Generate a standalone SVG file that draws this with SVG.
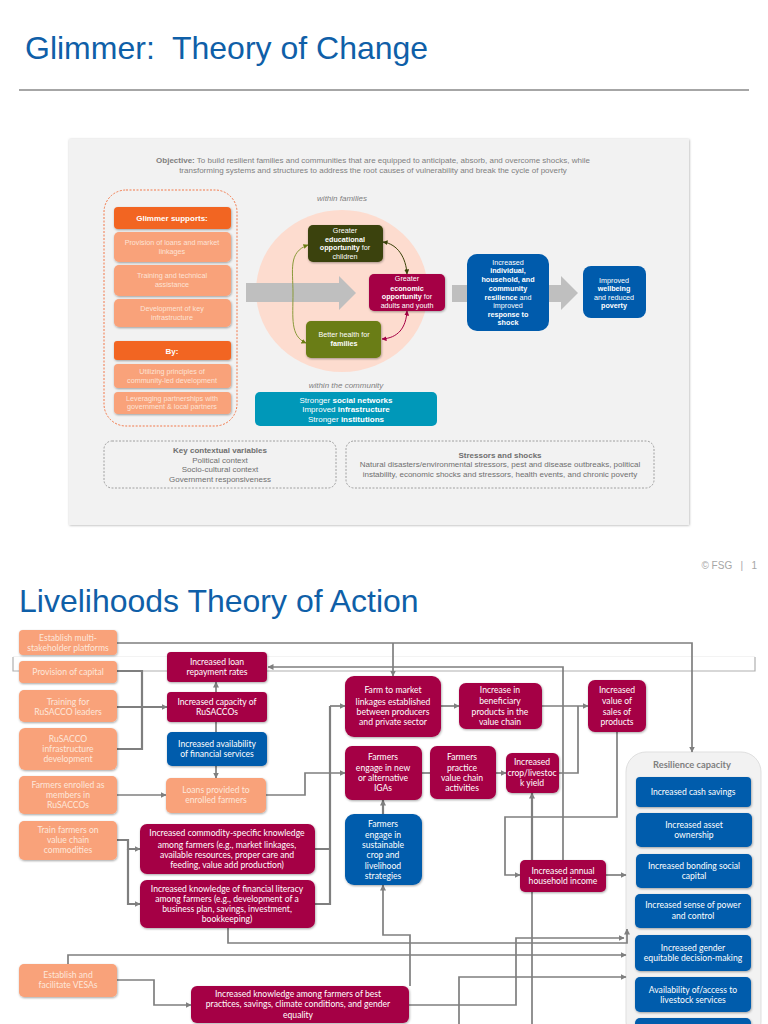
<svg xmlns="http://www.w3.org/2000/svg" width="768" height="1024" viewBox="0 0 768 1024">
<style>
text{font-family:"Liberation Sans",Arial,sans-serif;text-anchor:middle}
.t{font-size:32px;fill:#0f5fa8;text-anchor:start;white-space:pre}
.a{font-size:7.2px;fill:#fff}
.a2{font-size:7.2px;fill:#fde3d6}
.o{font-size:8px;fill:#7f7f7f}
.i{font-size:8px;fill:#7f7f7f;font-style:italic}
.k{font-size:8px;fill:#6f6f6f}
.l{font-family:Lato,"Liberation Sans",sans-serif;font-size:8.6px;fill:#fff}
.p{font-family:Lato,"Liberation Sans",sans-serif;font-size:8.6px;fill:#fde7db}
.b{font-weight:bold}
.or{fill:#f9a27a;filter:url(#s)}
.dor{fill:#f26522;filter:url(#s)}
.cr{fill:#a50044;filter:url(#s)}
.bl{fill:#005bac;filter:url(#s)}
.c{fill:none;stroke:#7f7f7f;stroke-width:1.7}
.h{stroke-width:2.2}
.cu{fill:none;stroke-width:1}
.d{fill:none;stroke:#8c8c8c;stroke-width:.8;stroke-dasharray:2 1.5}
</style>
<defs>
<filter id="s" x="-10%" y="-10%" width="120%" height="125%"><feDropShadow dx="0.6" dy="1" stdDeviation="0.9" flood-color="#000" flood-opacity=".35"/></filter>
<filter id="p" x="-2%" y="-2%" width="104%" height="104%"><feDropShadow dx="0.5" dy="0.5" stdDeviation="1.2" flood-color="#000" flood-opacity=".3"/></filter>
<marker id="m" viewBox="0 0 6 6" refX="5.5" refY="3" markerWidth="6" markerHeight="6" markerUnits="userSpaceOnUse" orient="auto-start-reverse"><path d="M0 0L6 3L0 6z" fill="#7f7f7f"/></marker>
<marker id="mo" viewBox="0 0 6 6" refX="5.500" refY="3" markerWidth="5" markerHeight="5" markerUnits="userSpaceOnUse" orient="auto-start-reverse"><path d="M0 0L6 3L0 6z" fill="#6b7d12"/></marker>
<marker id="md" viewBox="0 0 6 6" refX="5.500" refY="3" markerWidth="5" markerHeight="5" markerUnits="userSpaceOnUse" orient="auto-start-reverse"><path d="M0 0L6 3L0 6z" fill="#3a4209"/></marker>
<marker id="mc" viewBox="0 0 6 6" refX="5.500" refY="3" markerWidth="5" markerHeight="5" markerUnits="userSpaceOnUse" orient="auto-start-reverse"><path d="M0 0L6 3L0 6z" fill="#a50044"/></marker>
</defs>
<rect width="768" height="1024" fill="#fff"/>
<text class="t" x="25" y="59">Glimmer:  Theory of Change</text>
<path d="M19 90H749" stroke="#a6a6a6" stroke-width="2" fill="none"/>
<rect x="69" y="139" width="620" height="386" fill="#f2f2f2" filter="url(#p)"/>
<text class="o"><tspan x="373" y="163"><tspan class="b">Objective:</tspan> To build resilient families and communities that are equipped to anticipate, absorb, and overcome shocks, while</tspan><tspan x="373" y="173">transforming systems and structures to address the root causes of vulnerability and break the cycle of poverty</tspan></text>
<rect x="104" y="190" width="133" height="236" rx="22" fill="none" stroke="#f2794a" stroke-width="1" stroke-dasharray="2 1.5"/>
<ellipse cx="342" cy="291" rx="86" ry="81" fill="#fddccf"/>
<text class="i" x="342" y="201">within families</text>
<text class="i" x="346" y="388">within the community</text>
<g id="supports"><rect class="dor" x="114" y="207" width="117" height="22" rx="4"/><text class="b" x="172" y="221" font-size="8" fill="#fff">Glimmer supports:</text></g>
<g id="provision"><rect class="or" x="114" y="232" width="117" height="30" rx="5"/><text class="a2"><tspan x="172" y="245">Provision of loans and market</tspan><tspan x="172" y="254">linkages</tspan></text></g>
<g id="training"><rect class="or" x="114" y="265" width="117" height="31" rx="5"/><text class="a2"><tspan x="172" y="278">Training and technical</tspan><tspan x="172" y="287">assistance</tspan></text></g>
<g id="development"><rect class="or" x="114" y="299" width="117" height="28" rx="5"/><text class="a2"><tspan x="172" y="311">Development of key</tspan><tspan x="172" y="320">infrastructure</tspan></text></g>
<g id="by"><rect class="dor" x="114" y="341" width="117" height="19" rx="3"/><text class="b" x="172" y="354" font-size="8" fill="#fff">By:</text></g>
<g id="utilizing"><rect class="or" x="114" y="364" width="117" height="24" rx="4"/><text class="a2"><tspan x="172" y="374">Utilizing principles of</tspan><tspan x="172" y="383">community-led development</tspan></text></g>
<g id="leveraging"><rect class="or" x="114" y="392" width="117" height="22" rx="4"/><text class="a2"><tspan x="172" y="401">Leveraging partnerships with</tspan><tspan x="172" y="409">government &amp; local partners</tspan></text></g>
<g id="arrows-big" fill="#bfbfbf"><path d="M246 283H339V276L356 293L339 310V302H246z"/><path d="M452 285H467V302H452z"/><path d="M549 285H561V276L578 293L561 310V302H549z"/></g>
<g id="curves">
<path class="cu" stroke="#8a9a3a" marker-start="url(#mo)" marker-end="url(#mo)" d="M308 245C288 252 293 270 293 293C293 318 290 336 306 343"/>
<path class="cu" stroke="#3a4209" marker-start="url(#md)" marker-end="url(#md)" d="M383 242C398 244 406 258 407 274"/>
<path class="cu" stroke="#a50044" marker-start="url(#mc)" marker-end="url(#mc)" d="M407 311C406 328 398 338 382 339"/>
</g>
<g id="edu"><rect x="308" y="225" width="75" height="37" rx="5" fill="#3a4209" filter="url(#s)"/><text class="a"><tspan x="345" y="233">Greater</tspan><tspan class="b" x="345" y="242">educational</tspan><tspan x="345" y="250"><tspan class="b">opportunity</tspan> for</tspan><tspan x="345" y="259">children</tspan></text></g>
<g id="econ"><rect class="cr" x="369" y="274" width="76" height="37" rx="5"/><text class="a"><tspan x="407" y="281">Greater</tspan><tspan class="b" x="407" y="291">economic</tspan><tspan x="407" y="299"><tspan class="b">opportunity</tspan> for</tspan><tspan x="407" y="308">adults and youth</tspan></text></g>
<g id="health"><rect x="306" y="321" width="75" height="37" rx="5" fill="#6b7d12" filter="url(#s)"/><text class="a"><tspan x="344" y="337">Better health for</tspan><tspan class="b" x="344" y="346">families</tspan></text></g>
<g id="resilience"><rect x="467" y="254" width="82" height="77" rx="10" fill="#005bac"/><text class="a"><tspan x="508" y="265">Increased</tspan><tspan class="b" x="508" y="273">individual,</tspan><tspan class="b" x="508" y="282">household, and</tspan><tspan class="b" x="508" y="291">community</tspan><tspan x="508" y="300"><tspan class="b">resilience</tspan> and</tspan><tspan x="508" y="308">improved</tspan><tspan class="b" x="508" y="317">response to</tspan><tspan class="b" x="508" y="325">shock</tspan></text></g>
<g id="wellbeing"><rect x="583" y="266" width="63" height="52" rx="8" fill="#005bac"/><text class="a"><tspan x="614" y="283">Improved</tspan><tspan class="b" x="614" y="291">wellbeing</tspan><tspan x="614" y="300">and reduced</tspan><tspan class="b" x="614" y="308">poverty</tspan></text></g>
<g id="community"><rect x="255" y="392" width="182" height="34" rx="5" fill="#0098b9"/><text font-size="8" fill="#fff"><tspan x="346" y="403">Stronger <tspan class="b">social networks</tspan></tspan><tspan x="346" y="412">Improved <tspan class="b">infrastructure</tspan></tspan><tspan x="346" y="422">Stronger <tspan class="b">institutions</tspan></tspan></text></g>
<g id="contextual"><rect class="d" x="104" y="441" width="232" height="47" rx="8"/><text class="k"><tspan class="b" x="220" y="453">Key contextual variables</tspan><tspan x="220" y="463">Political context</tspan><tspan x="220" y="472">Socio-cultural context</tspan><tspan x="220" y="482">Government responsiveness</tspan></text></g>
<g id="stressors"><rect class="d" x="346" y="441" width="308" height="47" rx="8"/><text class="k"><tspan class="b" x="500" y="458">Stressors and shocks</tspan><tspan x="500" y="467">Natural disasters/environmental stressors, pest and disease outbreaks, political</tspan><tspan x="500" y="477">instability, economic shocks and stressors, health events, and chronic poverty</tspan></text></g>
<text x="757" y="569" font-size="10" fill="#a6a6a6" style="text-anchor:end;white-space:pre">© FSG   |   1</text>
<text class="t" x="19" y="612">Livelihoods Theory of Action</text>
<path d="M13 657V671H755V657" fill="none" stroke="#b0b0b0" stroke-width="1.2"/>
<path d="M13 656.500H755" fill="none" stroke="#f0f0f0" stroke-width=".8"/>
<rect x="626" y="752" width="135" height="290" rx="20" fill="#f2f2f2" stroke="#dfdfdf"/>
<g id="connectors">
<path class="c" marker-end="url(#m)" d="M117 643H692V752"/>
<path class="c" marker-end="url(#m)" d="M393 643V676"/>
<path class="c" marker-end="url(#m)" d="M563 860V667H268"/>
<path class="c h" d="M117 671H142V749H117"/>
<path class="c h" marker-end="url(#m)" d="M117 707H167"/>
<path class="c" marker-end="url(#m)" d="M216 692V682"/>
<path class="c" d="M216 722V732"/>
<path class="c" marker-end="url(#m)" d="M216 766V778"/>
<path class="c" marker-end="url(#m)" d="M117 795H166"/>
<path class="c" marker-end="url(#m)" d="M266 795H305V773H345"/>
<path class="c h" d="M315 849H330M315 904H330V706"/>
<path class="c" marker-end="url(#m)" d="M330 706H345"/>
<path class="c h" marker-end="url(#m)" d="M117 840H128V849H140"/>
<path class="c h" marker-end="url(#m)" d="M128 849V904H140"/>
<path class="c" marker-end="url(#m)" d="M228 928V943H627V929"/>
<path class="c" marker-end="url(#m)" d="M68 964V955H626"/>
<path class="c" marker-end="url(#m)" d="M117 980H154V1005H191"/>
<path class="c" marker-end="url(#m)" d="M410 986V935H383V885"/>
<path class="c" marker-end="url(#m)" d="M409 1005H516V938H624"/>
<path class="c" marker-end="url(#m)" d="M459 1024V977H626"/>
<path class="c" d="M532 1024V892"/>
<path class="c h" marker-end="url(#m)" d="M532 860V793"/>
<path class="c" marker-end="url(#m)" d="M606 875H626"/>
<path class="c" marker-end="url(#m)" d="M617 732V817H505V875H520"/>
<path class="c" marker-end="url(#m)" d="M441 706H459"/>
<path class="c" marker-end="url(#m)" d="M542 706H588"/>
<path class="c" d="M559 773H578V706"/>
<path class="c" d="M422 773H430"/>
<path class="c" marker-end="url(#m)" d="M496 773H506"/>
<path class="c h" marker-end="url(#m)" d="M383 814V800"/>
</g>
<g id="n1"><rect class="or" x="19" y="630" width="98" height="25" rx="4"/><text class="p"><tspan x="68" y="641">Establish multi-</tspan><tspan x="68" y="651">stakeholder platforms</tspan></text></g>
<g id="n2"><rect class="or" x="19" y="661" width="98" height="22" rx="4"/><text class="p" x="68" y="675">Provision of capital</text></g>
<g id="n3"><rect class="or" x="19" y="690" width="98" height="32" rx="5"/><text class="p"><tspan x="68" y="705">Training for</tspan><tspan x="68" y="715">RuSACCO leaders</tspan></text></g>
<g id="n4"><rect class="or" x="19" y="728" width="98" height="42" rx="6"/><text class="p"><tspan x="68" y="742">RuSACCO</tspan><tspan x="68" y="752">infrastructure</tspan><tspan x="68" y="762">development</tspan></text></g>
<g id="n5"><rect class="or" x="19" y="776" width="98" height="38" rx="5"/><text class="p"><tspan x="68" y="788">Farmers enrolled as</tspan><tspan x="68" y="798">members in</tspan><tspan x="68" y="808">RuSACCOs</tspan></text></g>
<g id="n6"><rect class="or" x="19" y="821" width="98" height="39" rx="5"/><text class="p"><tspan x="68" y="833">Train farmers on</tspan><tspan x="68" y="843">value chain</tspan><tspan x="68" y="853">commodities</tspan></text></g>
<g id="n7"><rect class="or" x="19" y="964" width="98" height="33" rx="5"/><text class="p"><tspan x="68" y="978">Establish and</tspan><tspan x="68" y="988">facilitate VESAs</tspan></text></g>
<g id="n8"><rect class="cr" x="167" y="652" width="100" height="30" rx="4"/><text class="l"><tspan x="217" y="665">Increased loan</tspan><tspan x="217" y="675">repayment rates</tspan></text></g>
<g id="n9"><rect class="cr" x="167" y="692" width="100" height="30" rx="4"/><text class="l"><tspan x="217" y="705">Increased capacity of</tspan><tspan x="217" y="715">RuSACCOs</tspan></text></g>
<g id="n10"><rect class="bl" x="167" y="732" width="100" height="34" rx="5"/><text class="l"><tspan x="217" y="747">Increased availability</tspan><tspan x="217" y="757">of financial services</tspan></text></g>
<g id="n11"><rect class="or" x="166" y="778" width="100" height="35" rx="5"/><text class="p"><tspan x="216" y="793">Loans provided to</tspan><tspan x="216" y="803">enrolled farmers</tspan></text></g>
<g id="n12"><rect class="cr" x="140" y="824" width="175" height="50" rx="7"/><text class="l"><tspan x="227" y="836">Increased commodity-specific knowledge</tspan><tspan x="227" y="848">among farmers (e.g., market linkages,</tspan><tspan x="227" y="858">available resources, proper care and</tspan><tspan x="227" y="868">feeding, value add production)</tspan></text></g>
<g id="n13"><rect class="cr" x="140" y="880" width="175" height="48" rx="7"/><text class="l"><tspan x="227" y="892">Increased knowledge of financial literacy</tspan><tspan x="227" y="902">among farmers (e.g., development of a</tspan><tspan x="227" y="912">business plan, savings, investment,</tspan><tspan x="227" y="922">bookkeeping)</tspan></text></g>
<g id="n14"><rect class="cr" x="191" y="986" width="218" height="37" rx="6"/><text class="l"><tspan x="298" y="997">Increased knowledge among farmers of best</tspan><tspan x="298" y="1007">practices, savings, climate conditions, and gender</tspan><tspan x="298" y="1018">equality</tspan></text></g>
<g id="n15"><rect class="cr" x="345" y="676" width="96" height="61" rx="9"/><text class="l"><tspan x="393" y="693">Farm to market</tspan><tspan x="393" y="705">linkages established</tspan><tspan x="393" y="715">between producers</tspan><tspan x="393" y="725">and private sector</tspan></text></g>
<g id="n16"><rect class="cr" x="459" y="683" width="83" height="46" rx="7"/><text class="l"><tspan x="500" y="693">Increase in</tspan><tspan x="500" y="704">beneficiary</tspan><tspan x="500" y="715">products in the</tspan><tspan x="500" y="725">value chain</tspan></text></g>
<g id="n17"><rect class="cr" x="588" y="680" width="58" height="52" rx="7"/><text class="l"><tspan x="617" y="693">Increased</tspan><tspan x="617" y="704">value of</tspan><tspan x="617" y="715">sales of</tspan><tspan x="617" y="725">products</tspan></text></g>
<g id="n18"><rect class="cr" x="345" y="746" width="77" height="54" rx="7"/><text class="l"><tspan x="383" y="760">Farmers</tspan><tspan x="383" y="771">engage in new</tspan><tspan x="383" y="781">or alternative</tspan><tspan x="383" y="791">IGAs</tspan></text></g>
<g id="n19"><rect class="cr" x="430" y="746" width="66" height="53" rx="7"/><text class="l"><tspan x="462" y="760">Farmers</tspan><tspan x="462" y="771">practice</tspan><tspan x="462" y="781">value chain</tspan><tspan x="462" y="791">activities</tspan></text></g>
<g id="n20"><rect class="cr" x="506" y="753" width="53" height="40" rx="6"/><text class="l"><tspan x="532" y="765">Increased</tspan><tspan x="532" y="776">crop/livestoc</tspan><tspan x="532" y="786">k yield</tspan></text></g>
<g id="n21"><rect class="bl" x="345" y="814" width="77" height="71" rx="9"/><text class="l"><tspan x="383" y="827">Farmers</tspan><tspan x="383" y="838">engage in</tspan><tspan x="383" y="848">sustainable</tspan><tspan x="383" y="858">crop and</tspan><tspan x="383" y="869">livelihood</tspan><tspan x="383" y="879">strategies</tspan></text></g>
<g id="n22"><rect class="cr" x="520" y="860" width="86" height="32" rx="5"/><text class="l"><tspan x="563" y="874">Increased annual</tspan><tspan x="563" y="884">household income</tspan></text></g>
<text x="692" y="768" font-size="9.300" font-weight="bold" fill="#7f7f7f" style="font-family:Lato,'Liberation Sans',sans-serif">Resilience capacity</text>
<g id="r1"><rect class="bl" x="636" y="777" width="115" height="30" rx="4"/><text class="l" x="693" y="795">Increased cash savings</text></g>
<g id="r2"><rect class="bl" x="636" y="813" width="116" height="34" rx="5"/><text class="l"><tspan x="694" y="828">Increased asset</tspan><tspan x="694" y="838">ownership</tspan></text></g>
<g id="r3"><rect class="bl" x="636" y="854" width="116" height="34" rx="5"/><text class="l"><tspan x="694" y="869">Increased bonding social</tspan><tspan x="694" y="879">capital</tspan></text></g>
<g id="r4"><rect class="bl" x="635" y="894" width="116" height="34" rx="5"/><text class="l"><tspan x="693" y="908">Increased sense of power</tspan><tspan x="693" y="919">and control</tspan></text></g>
<g id="r5"><rect class="bl" x="635" y="935" width="116" height="36" rx="5"/><text class="l"><tspan x="693" y="951">Increased gender</tspan><tspan x="693" y="961">equitable decision-making</tspan></text></g>
<g id="r6"><rect class="bl" x="635" y="977" width="116" height="35" rx="5"/><text class="l"><tspan x="693" y="993">Availability of/access to</tspan><tspan x="693" y="1003">livestock services</tspan></text></g>
<g id="r7"><rect class="bl" x="635" y="1018" width="116" height="20" rx="5"/></g>
</svg>
